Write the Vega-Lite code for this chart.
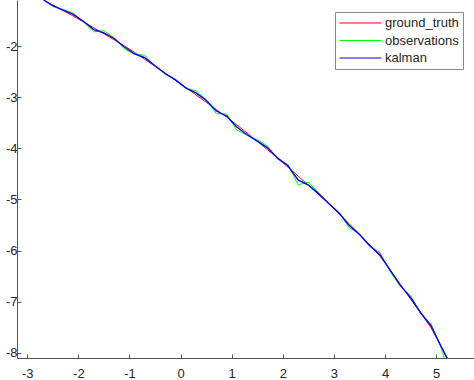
{
  "$schema": "https://vega.github.io/schema/vega-lite/v6.json",
  "width": 457,
  "height": 358,
  "autosize": "none",
  "padding": {"left": 17, "top": 0, "right": 0, "bottom": 22},
  "background": "white",
  "config": {
    "view": {"stroke": null},
    "font": "Liberation Sans",
    "axis": {
      "grid": false,
      "title": null,
      "domainColor": "#555555",
      "domainWidth": 1,
      "tickColor": "#555555",
      "tickSize": -4,
      "labelColor": "#262626",
      "labelFont": "Liberation Sans",
      "labelFontSize": 13
    }
  },
  "data": {
    "values": [
      {"series": "ground_truth", "x": -2.68, "y": -1.100},
      {"series": "ground_truth", "x": -2.5, "y": -1.197},
      {"series": "ground_truth", "x": -2.3, "y": -1.305},
      {"series": "ground_truth", "x": -2.1, "y": -1.414},
      {"series": "ground_truth", "x": -1.9, "y": -1.528},
      {"series": "ground_truth", "x": -1.7, "y": -1.643},
      {"series": "ground_truth", "x": -1.5, "y": -1.759},
      {"series": "ground_truth", "x": -1.3, "y": -1.878},
      {"series": "ground_truth", "x": -1.1, "y": -1.998},
      {"series": "ground_truth", "x": -0.9, "y": -2.125},
      {"series": "ground_truth", "x": -0.7, "y": -2.260},
      {"series": "ground_truth", "x": -0.5, "y": -2.396},
      {"series": "ground_truth", "x": -0.3, "y": -2.532},
      {"series": "ground_truth", "x": -0.1, "y": -2.670},
      {"series": "ground_truth", "x": 0.1, "y": -2.811},
      {"series": "ground_truth", "x": 0.3, "y": -2.954},
      {"series": "ground_truth", "x": 0.5, "y": -3.098},
      {"series": "ground_truth", "x": 0.7, "y": -3.244},
      {"series": "ground_truth", "x": 0.9, "y": -3.390},
      {"series": "ground_truth", "x": 1.1, "y": -3.542},
      {"series": "ground_truth", "x": 1.3, "y": -3.700},
      {"series": "ground_truth", "x": 1.5, "y": -3.862},
      {"series": "ground_truth", "x": 1.7, "y": -4.027},
      {"series": "ground_truth", "x": 1.9, "y": -4.195},
      {"series": "ground_truth", "x": 2.1, "y": -4.368},
      {"series": "ground_truth", "x": 2.3, "y": -4.543},
      {"series": "ground_truth", "x": 2.5, "y": -4.721},
      {"series": "ground_truth", "x": 2.7, "y": -4.902},
      {"series": "ground_truth", "x": 2.9, "y": -5.087},
      {"series": "ground_truth", "x": 3.1, "y": -5.278},
      {"series": "ground_truth", "x": 3.3, "y": -5.475},
      {"series": "ground_truth", "x": 3.5, "y": -5.678},
      {"series": "ground_truth", "x": 3.7, "y": -5.890},
      {"series": "ground_truth", "x": 3.9, "y": -6.110},
      {"series": "ground_truth", "x": 4.1, "y": -6.380},
      {"series": "ground_truth", "x": 4.3, "y": -6.660},
      {"series": "ground_truth", "x": 4.5, "y": -6.950},
      {"series": "ground_truth", "x": 4.7, "y": -7.220},
      {"series": "ground_truth", "x": 4.9, "y": -7.510},
      {"series": "ground_truth", "x": 5.1, "y": -7.880},
      {"series": "ground_truth", "x": 5.22, "y": -8.100},

      {"series": "observations", "x": -2.68, "y": -1.100},
      {"series": "observations", "x": -2.5, "y": -1.227},
      {"series": "observations", "x": -2.3, "y": -1.285},
      {"series": "observations", "x": -2.1, "y": -1.354},
      {"series": "observations", "x": -1.9, "y": -1.528},
      {"series": "observations", "x": -1.7, "y": -1.723},
      {"series": "observations", "x": -1.5, "y": -1.699},
      {"series": "observations", "x": -1.3, "y": -1.838},
      {"series": "observations", "x": -1.1, "y": -2.058},
      {"series": "observations", "x": -0.9, "y": -2.165},
      {"series": "observations", "x": -0.7, "y": -2.180},
      {"series": "observations", "x": -0.5, "y": -2.396},
      {"series": "observations", "x": -0.3, "y": -2.552},
      {"series": "observations", "x": -0.1, "y": -2.650},
      {"series": "observations", "x": 0.1, "y": -2.831},
      {"series": "observations", "x": 0.3, "y": -2.874},
      {"series": "observations", "x": 0.5, "y": -3.048},
      {"series": "observations", "x": 0.7, "y": -3.324},
      {"series": "observations", "x": 0.9, "y": -3.330},
      {"series": "observations", "x": 1.1, "y": -3.642},
      {"series": "observations", "x": 1.3, "y": -3.740},
      {"series": "observations", "x": 1.5, "y": -3.832},
      {"series": "observations", "x": 1.7, "y": -3.957},
      {"series": "observations", "x": 1.9, "y": -4.215},
      {"series": "observations", "x": 2.1, "y": -4.318},
      {"series": "observations", "x": 2.3, "y": -4.713},
      {"series": "observations", "x": 2.5, "y": -4.661},
      {"series": "observations", "x": 2.7, "y": -4.872},
      {"series": "observations", "x": 2.9, "y": -5.087},
      {"series": "observations", "x": 3.1, "y": -5.258},
      {"series": "observations", "x": 3.3, "y": -5.555},
      {"series": "observations", "x": 3.5, "y": -5.668},
      {"series": "observations", "x": 3.7, "y": -5.910},
      {"series": "observations", "x": 3.9, "y": -6.040},
      {"series": "observations", "x": 4.1, "y": -6.410},
      {"series": "observations", "x": 4.3, "y": -6.700},
      {"series": "observations", "x": 4.5, "y": -6.880},
      {"series": "observations", "x": 4.7, "y": -7.240},
      {"series": "observations", "x": 4.9, "y": -7.430},
      {"series": "observations", "x": 5.1, "y": -7.910},
      {"series": "observations", "x": 5.16, "y": -8.100},

      {"series": "kalman", "x": -2.68, "y": -1.100},
      {"series": "kalman", "x": -2.5, "y": -1.212},
      {"series": "kalman", "x": -2.3, "y": -1.300},
      {"series": "kalman", "x": -2.1, "y": -1.382},
      {"series": "kalman", "x": -1.9, "y": -1.517},
      {"series": "kalman", "x": -1.7, "y": -1.679},
      {"series": "kalman", "x": -1.5, "y": -1.742},
      {"series": "kalman", "x": -1.3, "y": -1.852},
      {"series": "kalman", "x": -1.1, "y": -2.019},
      {"series": "kalman", "x": -0.9, "y": -2.152},
      {"series": "kalman", "x": -0.7, "y": -2.229},
      {"series": "kalman", "x": -0.5, "y": -2.385},
      {"series": "kalman", "x": -0.3, "y": -2.538},
      {"series": "kalman", "x": -0.1, "y": -2.662},
      {"series": "kalman", "x": 0.1, "y": -2.818},
      {"series": "kalman", "x": 0.3, "y": -2.916},
      {"series": "kalman", "x": 0.5, "y": -3.060},
      {"series": "kalman", "x": 0.7, "y": -3.271},
      {"series": "kalman", "x": 0.9, "y": -3.369},
      {"series": "kalman", "x": 1.1, "y": -3.585},
      {"series": "kalman", "x": 1.3, "y": -3.735},
      {"series": "kalman", "x": 1.5, "y": -3.859},
      {"series": "kalman", "x": 1.7, "y": -3.991},
      {"series": "kalman", "x": 1.9, "y": -4.192},
      {"series": "kalman", "x": 2.1, "y": -4.342},
      {"series": "kalman", "x": 2.3, "y": -4.619},
      {"series": "kalman", "x": 2.5, "y": -4.718},
      {"series": "kalman", "x": 2.7, "y": -4.886},
      {"series": "kalman", "x": 2.9, "y": -5.081},
      {"series": "kalman", "x": 3.1, "y": -5.266},
      {"series": "kalman", "x": 3.3, "y": -5.511},
      {"series": "kalman", "x": 3.5, "y": -5.686},
      {"series": "kalman", "x": 3.7, "y": -5.903},
      {"series": "kalman", "x": 3.9, "y": -6.080},
      {"series": "kalman", "x": 4.1, "y": -6.384},
      {"series": "kalman", "x": 4.3, "y": -6.681},
      {"series": "kalman", "x": 4.5, "y": -6.922},
      {"series": "kalman", "x": 4.7, "y": -7.220},
      {"series": "kalman", "x": 4.9, "y": -7.470},
      {"series": "kalman", "x": 5.1, "y": -7.881},
      {"series": "kalman", "x": 5.21, "y": -8.100}
    ]
  },
  "encoding": {
    "x": {
      "field": "x", "type": "quantitative",
      "scale": {"domain": [-3.2, 5.74], "nice": false, "zero": false},
      "axis": {"values": [-3, -2, -1, 0, 1, 2, 3, 4, 5], "labelExpr": "'' + datum.value", "labelPadding": 13}
    },
    "y": {
      "field": "y", "type": "quantitative",
      "scale": {"domain": [-8.1, -1.1], "nice": false, "zero": false},
      "axis": {"values": [-8, -7, -6, -5, -4, -3, -2], "labelExpr": "'' + datum.value", "labelPadding": 4}
    },
    "color": {
      "field": "series", "type": "nominal",
      "scale": {"domain": ["ground_truth", "observations", "kalman"], "range": ["#ff0000", "#00ff00", "#0000ff"]},
      "legend": {
        "title": null,
        "orient": "none",
        "legendX": 318,
        "legendY": 12,
        "symbolType": "stroke",
        "symbolSize": 1764,
        "symbolStrokeWidth": 1,
        "clipHeight": 14,
        "labelFont": "Liberation Sans",
        "labelFontSize": 13,
        "labelColor": "#262626",
        "labelOffset": 3,
        "padding": 4,
        "rowPadding": 3.5,
        "strokeColor": "#888888",
        "fillColor": "white",
        "encode": {
          "symbols": {"update": {"stroke": {"scale": "color", "field": "value"}}}
        }
      }
    }
  },
  "layer": [
    {"transform": [{"filter": "datum.series === 'ground_truth'"}], "mark": {"type": "line", "strokeWidth": 1, "clip": true}},
    {"transform": [{"filter": "datum.series === 'observations'"}], "mark": {"type": "line", "strokeWidth": 1, "clip": true}},
    {"transform": [{"filter": "datum.series === 'kalman'"}], "mark": {"type": "line", "strokeWidth": 1.4, "clip": true}}
  ]
}
